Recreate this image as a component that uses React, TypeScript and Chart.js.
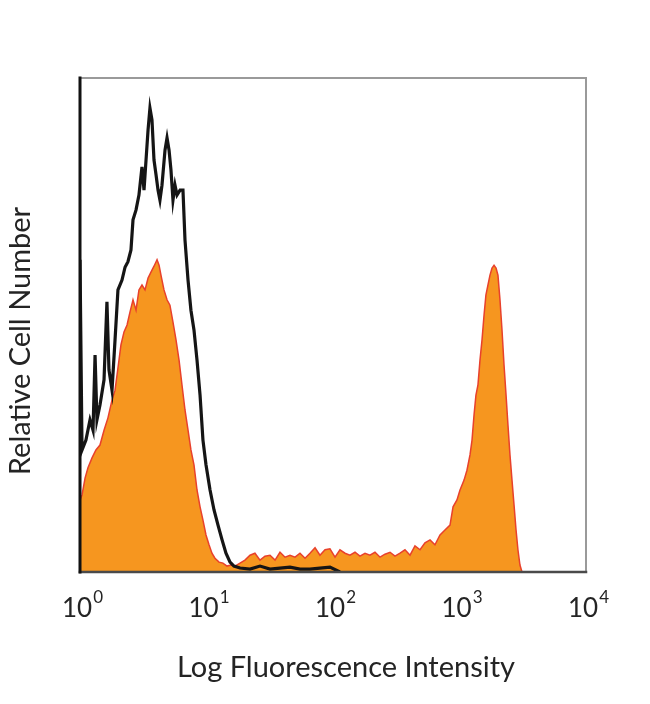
import { useEffect, useRef } from "react";
import { Chart, registerables } from "chart.js";

Chart.register(...registerables);

// Axis: decades of fluorescence (10^0 .. 10^4)
const decadeTicks = [0, 1, 2, 3, 4];
const tickBase = "10";
const tickExponents = ["0", "1", "2", "3", "4"];
const xTitle = "Log Fluorescence Intensity";
const yTitle = "Relative Cell Number";

// Unstained / isotype control (black outline), x in decades, y relative count
const controlX = [
  0.0, 0.016, 0.047, 0.079, 0.103, 0.119, 0.134, 0.158, 0.19, 0.213, 0.229, 0.253,
  0.277, 0.3, 0.332, 0.356, 0.379, 0.403, 0.419, 0.443, 0.466, 0.49, 0.506, 0.522,
  0.538, 0.553, 0.569, 0.585, 0.601, 0.617, 0.632, 0.648, 0.672, 0.688, 0.704, 0.719,
  0.735, 0.751, 0.767, 0.791, 0.814, 0.83, 0.854, 0.877, 0.901, 0.925, 0.949, 0.972,
  0.996, 1.028, 1.059, 1.091, 1.123, 1.154, 1.186, 1.217, 1.265, 1.344, 1.423, 1.502,
  1.581, 1.66, 1.739, 1.818, 1.897, 1.976, 2.055,
];
const controlY = [
  63.2, 24.7, 26.7, 30.8, 28.7, 43.9, 30.8, 33.8, 38.9, 54.7, 40.9, 36.8,
  47.0, 57.1, 59.1, 61.7, 62.8, 65.2, 71.3, 73.3, 76.3, 82.0, 77.3, 83.4,
  89.5, 93.9, 91.5, 83.4, 80.4, 77.3, 75.3, 78.3, 85.4, 87.9, 85.4, 81.4,
  75.3, 78.3, 76.3, 77.3, 77.3, 67.2, 59.1, 53.0, 49.0, 42.9, 35.8, 26.7,
  21.7, 16.6, 12.6, 9.5, 6.5, 3.8, 2.0, 1.2, 0.8, 0.6, 1.2, 0.6,
  0.8, 1.0, 0.6, 0.6, 0.8, 1.0, 0.0,
];

// Stained sample (orange filled, red outline)
const stainedX = [
  0.0, 0.016, 0.04, 0.063, 0.095, 0.126, 0.158, 0.19, 0.221, 0.253, 0.277, 0.3,
  0.324, 0.348, 0.372, 0.395, 0.419, 0.443, 0.466, 0.49, 0.514, 0.538, 0.561, 0.585,
  0.609, 0.625, 0.64, 0.664, 0.688, 0.711, 0.735, 0.759, 0.783, 0.806, 0.83, 0.854,
  0.877, 0.901, 0.925, 0.949, 0.972, 0.996, 1.02, 1.043, 1.067, 1.099, 1.13, 1.162,
  1.194, 1.225, 1.265, 1.304, 1.344, 1.383, 1.423, 1.462, 1.502, 1.542, 1.581, 1.621,
  1.66, 1.7, 1.739, 1.779, 1.818, 1.858, 1.897, 1.937, 1.976, 2.016, 2.055, 2.095,
  2.134, 2.174, 2.213, 2.253, 2.292, 2.332, 2.372, 2.411, 2.451, 2.49, 2.53, 2.569,
  2.609, 2.648, 2.688, 2.727, 2.767, 2.806, 2.846, 2.885, 2.925, 2.949, 2.98, 3.004,
  3.036, 3.059, 3.083, 3.099, 3.115, 3.13, 3.146, 3.162, 3.178, 3.194, 3.209, 3.225,
  3.241, 3.257, 3.273, 3.289, 3.304, 3.32, 3.336, 3.352, 3.368, 3.383, 3.399, 3.415,
  3.431, 3.447, 3.462, 3.478, 3.494,
];
const stainedY = [
  14.6, 15.6, 19.0, 21.1, 23.1, 24.7, 25.7, 28.7, 31.2, 34.8, 36.8, 41.3,
  46.0, 48.6, 50.0, 52.6, 55.1, 53.0, 57.1, 58.1, 57.1, 59.5, 60.7, 61.9,
  63.2, 62.1, 60.1, 57.1, 55.1, 54.0, 50.6, 47.0, 42.9, 37.9, 32.8, 28.7,
  24.7, 21.7, 16.6, 13.2, 10.5, 7.5, 5.5, 3.8, 2.8, 2.0, 1.8, 1.2,
  1.4, 1.2, 1.8, 2.4, 3.4, 3.8, 2.4, 3.2, 3.4, 2.4, 4.0, 3.0,
  3.4, 3.0, 3.8, 2.8, 3.8, 4.9, 3.4, 4.5, 4.7, 3.0, 4.5, 3.8,
  3.4, 4.0, 3.2, 3.8, 3.4, 4.0, 3.0, 3.6, 4.0, 3.2, 3.8, 4.5,
  3.4, 5.3, 4.5, 5.9, 6.5, 5.5, 7.5, 8.5, 9.5, 13.2, 14.6, 16.6,
  18.6, 20.6, 23.7, 26.7, 31.8, 35.8, 37.9, 42.9, 47.0, 52.0, 56.1, 58.1,
  60.1, 61.5, 62.1, 61.5, 60.1, 55.1, 49.0, 41.9, 35.8, 29.8, 23.7, 18.6,
  13.6, 8.5, 4.5, 1.4, 0.0,
];

const FONT = "Lato, 'Open Sans', sans-serif";
const TEXT_COLOR = "#242424";

const flowPlugin = {
  id: "flowFrameAndLabels",
  afterDatasetsDraw(chart: any) {
    const { ctx, chartArea: a } = chart;
    ctx.save();
    ctx.lineCap = "square";
    ctx.strokeStyle = "#9a9a9a";
    ctx.lineWidth = 2;
    ctx.beginPath();
    ctx.moveTo(a.left, a.top);
    ctx.lineTo(a.right, a.top);
    ctx.lineTo(a.right, a.bottom);
    ctx.stroke();
    ctx.strokeStyle = "#4a4a4a";
    ctx.lineWidth = 2.5;
    ctx.beginPath();
    ctx.moveTo(a.left, a.bottom);
    ctx.lineTo(a.right, a.bottom);
    ctx.stroke();
    ctx.strokeStyle = "#111111";
    ctx.lineWidth = 3;
    ctx.beginPath();
    ctx.moveTo(a.left, a.top);
    ctx.lineTo(a.left, a.bottom);
    ctx.stroke();
    ctx.restore();
  },
  afterDraw(chart: any) {
    const { ctx, chartArea: a } = chart;
    const xs = chart.scales.x;
    ctx.save();
    ctx.fillStyle = TEXT_COLOR;
    ctx.textAlign = "left";
    ctx.textBaseline = "alphabetic";
    decadeTicks.forEach((v, i) => {
      const px = xs.getPixelForValue(v);
      ctx.font = `26px ${FONT}`;
      const wb = ctx.measureText(tickBase).width;
      ctx.font = `17px ${FONT}`;
      const we = ctx.measureText(tickExponents[i]).width;
      const start = px - (wb + we) / 2 + 2;
      ctx.font = `26px ${FONT}`;
      ctx.fillText(tickBase, start, a.bottom + 45);
      ctx.font = `17px ${FONT}`;
      ctx.fillText(tickExponents[i], start + wb + 1, a.bottom + 31);
    });
    // x-axis title
    ctx.textAlign = "center";
    ctx.textBaseline = "middle";
    ctx.font = `29px ${FONT}`;
    ctx.fillText(xTitle, (a.left + a.right) / 2 + 13, a.bottom + 96);
    // y-axis title
    ctx.translate(21, (a.top + a.bottom) / 2 + 16);
    ctx.rotate(-Math.PI / 2);
    ctx.fillText(yTitle, 0, 0);
    ctx.restore();
  },
};

export default function App() {
  const canvasRef = useRef<HTMLCanvasElement | null>(null);

  useEffect(() => {
    const canvas = canvasRef.current;
    if (!canvas) return;
    const toPoints = (xs: number[], ys: number[]) => xs.map((x, i) => ({ x, y: ys[i] }));
    const chart = new Chart(canvas, {
      type: "line",
      data: {
        datasets: [
          {
            label: "Control",
            data: toPoints(controlX, controlY),
            borderColor: "#151515",
            borderWidth: 3.2,
            pointRadius: 0,
            fill: false,
            tension: 0,
          },
          {
            label: "Stained",
            data: toPoints(stainedX, stainedY),
            borderColor: "#e8412c",
            backgroundColor: "#f6961f",
            borderWidth: 1.5,
            pointRadius: 0,
            fill: "origin",
            tension: 0,
          },
        ],
      },
      options: {
        responsive: false,
        animation: false,
        devicePixelRatio: 1,
        layout: { padding: { left: 0, right: 64, top: 78, bottom: 0 } },
        plugins: {
          legend: { display: false },
          tooltip: { enabled: false },
        },
        scales: {
          x: {
            type: "linear",
            min: 0,
            max: 4,
            grid: { display: false },
            border: { display: false },
            ticks: { display: false, stepSize: 1 },
            title: { display: false },
            afterFit: (s: any) => {
              s.height = 132;
            },
          },
          y: {
            type: "linear",
            min: 0,
            max: 100,
            grid: { display: false },
            border: { display: false },
            ticks: { display: false },
            title: { display: false },
            afterFit: (s: any) => {
              s.width = 80;
            },
          },
        },
      },
      plugins: [flowPlugin],
    });
    return () => chart.destroy();
  }, []);

  return (
    <div style={{ position: "fixed", left: 0, top: 0, width: 650, height: 704, background: "#fff" }}>
      <canvas ref={canvasRef} width={650} height={704} />
    </div>
  );
}
